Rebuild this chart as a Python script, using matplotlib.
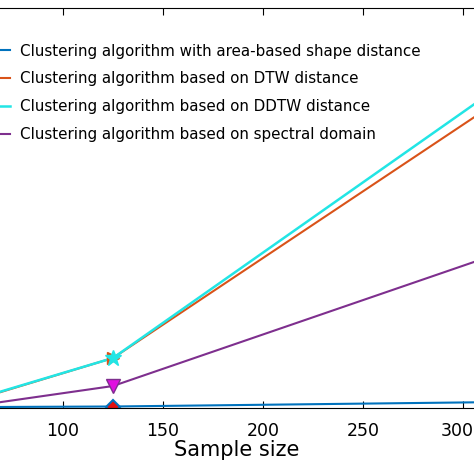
import matplotlib
matplotlib.use("Agg")
import matplotlib.pyplot as plt

x = [64, 125, 320]
area = [1, 1.5, 6]
dtw = [13, 50, 310]
ddtw = [13.5, 50, 324]
spectral = [4.5, 22, 156]
labels = ["Clustering algorithm with area-based shape distance",
          "Clustering algorithm based on DTW distance",
          "Clustering algorithm based on DDTW distance",
          "Clustering algorithm based on spectral domain"]
xticks = [100, 150, 200, 250, 300]

fig = plt.figure(figsize=(4.74, 4.74), dpi=100)
ax = fig.add_axes([0, 66/474, 1, 400/474])
ax.plot(x, area, color="#0072BD", lw=1.5, label=labels[0])
ax.plot(x, dtw, color="#D95319", lw=1.5, label=labels[1])
ax.plot(x, ddtw, color="#22E5E5", lw=1.8, label=labels[2])
ax.plot(x, spectral, color="#7E2F8E", lw=1.5, label=labels[3])
ax.plot(x[1], dtw[1], marker=">", color="#D95319", ms=9, ls="none")
ax.plot(x[1], ddtw[1], marker="*", color="#22E5E5", ms=12, ls="none")
ax.plot(x[1], spectral[1], marker="v", mfc="#E010E0", mec="#7E2F8E", ms=10, ls="none")
ax.plot(x[1], area[1], marker="D", mfc="#E01010", mec="#0072BD", ms=7, mew=1.5, ls="none")
ax.set_xlim(68.5, 305.5)
ax.set_ylim(0, 400)
ax.set_xticks(xticks)
ax.set_xticklabels(["100", "150", "200", "250", "3000"], fontsize=12.5)
ax.tick_params(axis="x", direction="in", length=5, top=True, pad=10)
ax.set_yticks([])
ax.spines["left"].set_visible(False)
ax.spines["right"].set_visible(False)
ax.set_xlabel("Sample size", fontsize=15, labelpad=0)
leg = ax.legend(loc="upper left", bbox_to_anchor=(-0.045, 0.945), frameon=False,
                fontsize=10.9, handlelength=1.2, handletextpad=0.6, labelspacing=0.85)
fig.savefig("out.png", dpi=100)
